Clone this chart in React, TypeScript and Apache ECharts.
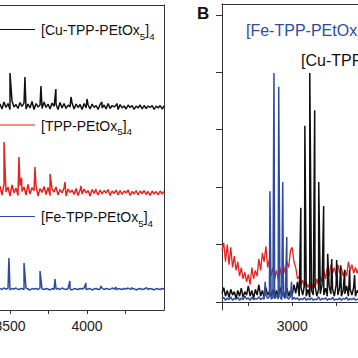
import React, { useEffect, useRef } from 'react';
import * as echarts from 'echarts';

// ---------- Panel A (stacked spectra), m/z axis ----------
const leftMzMin = 3435;
const leftMzMax = 4500;
const leftNoiseStart = 3435;
const leftNoiseStep = 13;
const leftTicks = [3500, 3750, 4000, 4250];
const leftLabels = [3500, 4000];

const cuNoiseA = [
  8, -2, 12, 1, 9, -3, 14, 2, 7, -1,
  11, 3, 10, -2, 8, 0, 13, -3, 9, 2,
  6, -1, 12, 1, 8, -2, 10, 3, 7, -3,
  11, 0, 9, -1, 6, 2, 10, -2, 8, 1,
  7, -3, 9, 0, 6, -2, 8, 1, 5, -3,
  7, 0, 6, -2, 9, -1, 5, 2, 6, -3,
  7, 0, 4, -2, 6, 1, 5, -3, 4, 0,
  6, -2, 5, -1, 4, 1, 5, -3, 4, 0,
  5, -2, 4,
];
const cuPeaksA: [number, number][] = [
  [3500, 70], [3597, 62], [3701, 44], [3798, 38], [3896, 22], [4000, 18], [4097, 12], [4194, 9],
];

const tppNoiseA = [
  14, -4, 18, 2, 12, -6, 16, 0, 10, -5,
  15, 3, 12, -4, 17, -2, 11, 4, 14, -6,
  9, 1, 13, -3, 11, -5, 8, 2, 12, -4,
  7, 0, 10, -6, 8, 1, 6, -3, 9, -5,
  6, -2, 8, 0, 5, -6, 7, -1, 4, -4,
  6, -2, 5, 0, 7, -5, 4, -1, 6, -4,
  5, -3, 4, 0, 6, -5, 3, -2, 5, -4,
  4, -1, 5, -3, 3, -5, 4, -2, 3, -4,
  4, -2, 3,
];
const tppPeaksA: [number, number][] = [
  [3461, 102], [3558, 72], [3575, 30], [3662, 52], [3760, 38], [3857, 22], [3961, 14], [4058, 8],
];

const feNoiseA = [
  1, -1, 2, 0, 1, -2, 1, 0, 2, -1,
  0, 1, -1, 2, 0, -2, 1, 0, 1, -1,
  2, 0, -1, 1, 0, -2, 1, -1, 0, 1,
  -1, 2, 0, -1, 1, 0, -2, 1, 0, -1,
  1, 0, 2, -1, 0, 1, -2, 0, 1, -1,
  0, 2, -1, 1, 0, -1, 2, 0, -2, 1,
  0, -1, 1, 0, 2, -1, 0, 1, -2, 0,
  1, -1, 0, 2, -1, 1, 0, -2, 1, 0,
  -1, 1, 0,
];
const fePeaksA: [number, number][] = [
  [3493, 62], [3591, 52], [3695, 36], [3792, 20], [3889, 16], [3993, 12], [4091, 6], [4188, 4], [4292, 3], [4390, 2],
];

// ---------- Panel B (overlaid spectra) ----------
const rightMzMin = 2600;
const rightMzMax = 3500;
const rightNoiseStart = 2600;
const rightNoiseStep = 10;
const rightTicks = [2750, 3000, 3250, 3500];
const rightLabels = [3000, 3500];
const rightYTicks = [0, 1, 2, 3, 4, 5];

const tppNoiseB = [
  0.9, 1.03, 0.7, 1.0, 0.65, 0.95, 0.6, 0.8, 0.55, 0.7,
  0.45, 0.6, 0.4, 0.52, 0.35, 0.48, 0.3, 0.6, 0.4, 0.55,
  0.45, 0.75, 0.55, 0.85, 0.7, 0.97, 0.6, 0.75, 0.45, 0.6,
  0.4, 0.55, 0.4, 0.6, 0.45, 0.65, 0.5, 0.7, 0.6, 0.9,
  0.95, 0.7, 0.6, 0.4, 0.45, 0.3, 0.38, 0.25, 0.35, 0.25,
  0.33, 0.22, 0.32, 0.25, 0.4, 0.3, 0.45, 0.35, 0.55, 0.4,
  0.6, 0.45, 0.65, 0.5, 0.6, 0.45, 0.65, 0.5, 0.6, 0.45,
  0.55, 0.45, 0.7, 0.55, 0.65, 0.5, 0.6, 0.5, 0.6,
];
const cuNoiseB = [
  0.15, 0.25, 0.1, 0.2, 0.08, 0.22, 0.12, 0.18, 0.06, 0.2,
  0.1, 0.24, 0.08, 0.18, 0.12, 0.28, 0.1, 0.2, 0.06, 0.22,
  0.12, 0.3, 0.1, 0.2, 0.08, 0.25, 0.12, 0.18, 0.1, 0.22,
  0.06, 0.2, 0.1, 0.26, 0.12, 0.18, 0.08, 0.24, 0.1, 0.2,
  0.12, 0.3, 0.15, 0.35, 0.1, 0.25, 0.12, 0.3, 0.1, 0.22,
  0.08, 0.2, 0.12, 0.28, 0.1, 0.22, 0.14, 0.3, 0.12, 0.24,
  0.1, 0.28, 0.14, 0.22, 0.1, 0.3, 0.12, 0.25, 0.1, 0.2,
  0.14, 0.28, 0.1, 0.22, 0.12, 0.26, 0.1, 0.2, 0.15,
];
const cuPeaksB: [number, number][] = [
  [3049, 1.64], [3072, 3.07], [3100, 3.99], [3128, 3.34], [3151, 2.09], [3179, 1.67],
  [3202, 0.84], [3225, 0.75], [3253, 0.73], [3276, 0.64], [3299, 0.56], [3327, 0.56], [3355, 0.47],
];
const feNoiseB = [
  0.05, 0.08, 0.03, 0.07, 0.04, 0.09, 0.03, 0.06, 0.05, 0.08,
  0.03, 0.07, 0.04, 0.1, 0.05, 0.07, 0.03, 0.08, 0.04, 0.06,
  0.05, 0.09, 0.04, 0.07, 0.05, 0.12, 0.06, 0.1, 0.05, 0.08,
  0.06, 0.12, 0.05, 0.09, 0.04, 0.1, 0.06, 0.08, 0.05, 0.1,
  0.04, 0.08, 0.05, 0.07, 0.03, 0.06, 0.04, 0.08, 0.03, 0.06,
  0.04, 0.07, 0.03, 0.05, 0.04, 0.09, 0.03, 0.06, 0.05, 0.07,
  0.03, 0.06, 0.04, 0.08, 0.03, 0.05, 0.04, 0.07, 0.03, 0.06,
  0.05, 0.08, 0.03, 0.06, 0.04, 0.07, 0.03, 0.05, 0.04,
];
const fePeaksB: [number, number][] = [
  [2846, 0.35], [2873, 1.93], [2896, 3.99], [2923, 3.75], [2946, 2.09], [2969, 1.13], [2996, 0.35],
];

const BLACK = '#111111';
const RED = '#e8231f';
const BLUE = '#2f4b9f';
const FRAME = '#333333';
const FONT = 'Liberation Sans, Arial, sans-serif';

function spectrum(start: number, step: number, noise: number[], peaks: [number, number][]) {
  const pts: [number, number][] = noise.map((v, i) => [start + i * step, v]);
  peaks.forEach((p) => pts.push(p));
  pts.sort((a, b) => a[0] - b[0]);
  return pts;
}

function richLabel(main: string, sub1: string, sub2: string, size: number, color: string) {
  return {
    text: `{m|${main}}{s|${sub1}}{m|]}{s|${sub2}}`,
    rich: {
      m: { fontSize: size, lineHeight: size + 8, fontFamily: FONT, fill: color },
      s: { fontSize: size * 0.7, lineHeight: size * 0.7, verticalAlign: 'bottom', fontFamily: FONT, fill: color },
    },
  };
}

export default function App() {
  const ref = useRef<HTMLDivElement>(null);
  useEffect(() => {
    const chart = echarts.init(ref.current!, null, { renderer: 'svg' });
    const hiddenX = (g: number) => ({ type: 'value', gridIndex: g, min: leftMzMin, max: leftMzMax, show: false });
    const plain = (v: number) => String(v);
    const option: any = {
      animation: false,
      backgroundColor: '#ffffff',
      grid: [
        { left: 0, top: 5, width: 164, height: 305, containLabel: false, outerBoundsMode: 'none' },
        { left: 0, top: 58, width: 164, height: 52, containLabel: false, outerBoundsMode: 'none' },
        { left: 0, top: 135, width: 164, height: 62, containLabel: false, outerBoundsMode: 'none' },
        { left: 0, top: 250, width: 164, height: 42, containLabel: false, outerBoundsMode: 'none' },
        { left: 222, top: 4, width: 158, height: 306, containLabel: false, outerBoundsMode: 'none' },
      ],
      xAxis: [
        {
          type: 'value', gridIndex: 0, min: leftMzMin, max: leftMzMax, position: 'bottom',
          axisLine: { show: true, lineStyle: { color: FRAME, width: 1 } },
          axisTick: { show: true, inside: false, length: 4, customValues: leftTicks, lineStyle: { color: FRAME } },
          axisLabel: { show: true, customValues: leftLabels, formatter: plain, fontSize: 14, fontFamily: FONT, color: '#222', margin: 9 },
          splitLine: { show: false },
        },
        {
          type: 'value', gridIndex: 0, min: leftMzMin, max: leftMzMax, position: 'top',
          axisLine: { show: true, lineStyle: { color: FRAME, width: 1 } },
          axisTick: { show: false }, axisLabel: { show: false }, splitLine: { show: false },
        },
        hiddenX(1), hiddenX(2), hiddenX(3),
        {
          type: 'value', gridIndex: 4, min: rightMzMin, max: rightMzMax, position: 'bottom',
          axisLine: { show: true, lineStyle: { color: FRAME, width: 1 } },
          axisTick: { show: true, inside: false, length: 4, customValues: rightTicks, lineStyle: { color: FRAME } },
          axisLabel: { show: true, customValues: rightLabels, formatter: plain, fontSize: 14, fontFamily: FONT, color: '#222', margin: 9 },
          splitLine: { show: false },
        },
        {
          type: 'value', gridIndex: 4, min: rightMzMin, max: rightMzMax, position: 'top',
          axisLine: { show: true, lineStyle: { color: FRAME, width: 1 } },
          axisTick: { show: false }, axisLabel: { show: false }, splitLine: { show: false },
        },
      ],
      yAxis: [
        {
          type: 'value', gridIndex: 0, min: 0, max: 1, position: 'right',
          axisLine: { show: true, lineStyle: { color: FRAME, width: 1 } },
          axisTick: { show: false }, axisLabel: { show: false }, splitLine: { show: false },
        },
        { type: 'value', gridIndex: 1, min: -4, max: 100, show: false },
        { type: 'value', gridIndex: 2, min: -8, max: 116, show: false },
        { type: 'value', gridIndex: 3, min: -6, max: 78, show: false },
        {
          type: 'value', gridIndex: 4, min: -0.14, max: 5.19, position: 'left',
          axisLine: { show: true, lineStyle: { color: FRAME, width: 1 } },
          axisTick: { show: true, inside: false, length: 6, customValues: rightYTicks, lineStyle: { color: FRAME } },
          axisLabel: { show: false }, splitLine: { show: false },
        },
      ],
      series: [
        {
          name: '[Cu-TPP-PEtOx5]4 A', type: 'line', xAxisIndex: 2, yAxisIndex: 1, showSymbol: false,
          lineStyle: { color: BLACK, width: 1.5 }, data: spectrum(leftNoiseStart, leftNoiseStep, cuNoiseA, cuPeaksA),
        },
        {
          name: '[TPP-PEtOx5]4 A', type: 'line', xAxisIndex: 3, yAxisIndex: 2, showSymbol: false,
          lineStyle: { color: RED, width: 1.5 }, data: spectrum(leftNoiseStart, leftNoiseStep, tppNoiseA, tppPeaksA),
        },
        {
          name: '[Fe-TPP-PEtOx5]4 A', type: 'line', xAxisIndex: 4, yAxisIndex: 3, showSymbol: false,
          lineStyle: { color: BLUE, width: 1.5 }, data: spectrum(leftNoiseStart, leftNoiseStep, feNoiseA, fePeaksA),
        },
        {
          name: '[TPP-PEtOx5]4 B', type: 'line', xAxisIndex: 5, yAxisIndex: 4, showSymbol: false,
          lineStyle: { color: RED, width: 1.3 }, data: spectrum(rightNoiseStart, rightNoiseStep, tppNoiseB, []),
        },
        {
          name: '[Cu-TPP-PEtOx5]4 B', type: 'line', xAxisIndex: 5, yAxisIndex: 4, showSymbol: false,
          lineStyle: { color: BLACK, width: 1.5 }, data: spectrum(rightNoiseStart, rightNoiseStep, cuNoiseB, cuPeaksB),
        },
        {
          name: '[Fe-TPP-PEtOx5]4 B', type: 'line', xAxisIndex: 5, yAxisIndex: 4, showSymbol: false,
          lineStyle: { color: BLUE, width: 1.5 }, data: spectrum(rightNoiseStart, rightNoiseStep, feNoiseB, fePeaksB),
        },
      ],
      graphic: [
        { type: 'line', shape: { x1: 0, y1: 29.5, x2: 35, y2: 29.5 }, style: { stroke: BLACK, lineWidth: 1 } },
        { type: 'text', x: 41, y: 30, style: { ...richLabel('[Cu-TPP-PEtOx', '5', '4', 14, BLACK), verticalAlign: 'middle' } },
        { type: 'line', shape: { x1: 0, y1: 125, x2: 35, y2: 125 }, style: { stroke: RED, lineWidth: 1 } },
        { type: 'text', x: 41, y: 125.5, style: { ...richLabel('[TPP-PEtOx', '5', '4', 14, BLACK), verticalAlign: 'middle' } },
        { type: 'line', shape: { x1: 0, y1: 216.5, x2: 35, y2: 216.5 }, style: { stroke: BLUE, lineWidth: 1 } },
        { type: 'text', x: 41, y: 217, style: { ...richLabel('[Fe-TPP-PEtOx', '5', '4', 14, BLACK), verticalAlign: 'middle' } },
        { type: 'text', x: 197, y: 13, style: { text: 'B', fontSize: 17, fontWeight: 'bold', fontFamily: FONT, fill: '#111', verticalAlign: 'middle' } },
        { type: 'text', x: 246, y: 30, style: { ...richLabel('[Fe-TPP-PEtOx', '5', '4', 16, BLUE), verticalAlign: 'middle' } },
        { type: 'text', x: 301, y: 60, style: { ...richLabel('[Cu-TPP-PEtOx', '5', '4', 16, BLACK), verticalAlign: 'middle' } },
      ],
    };
    chart.setOption(option);
    return () => chart.dispose();
  }, []);
  return (
    <div
      ref={ref}
      style={{ position: 'fixed', left: 0, top: 0, width: 358, height: 358, background: '#fff' }}
    />
  );
}
